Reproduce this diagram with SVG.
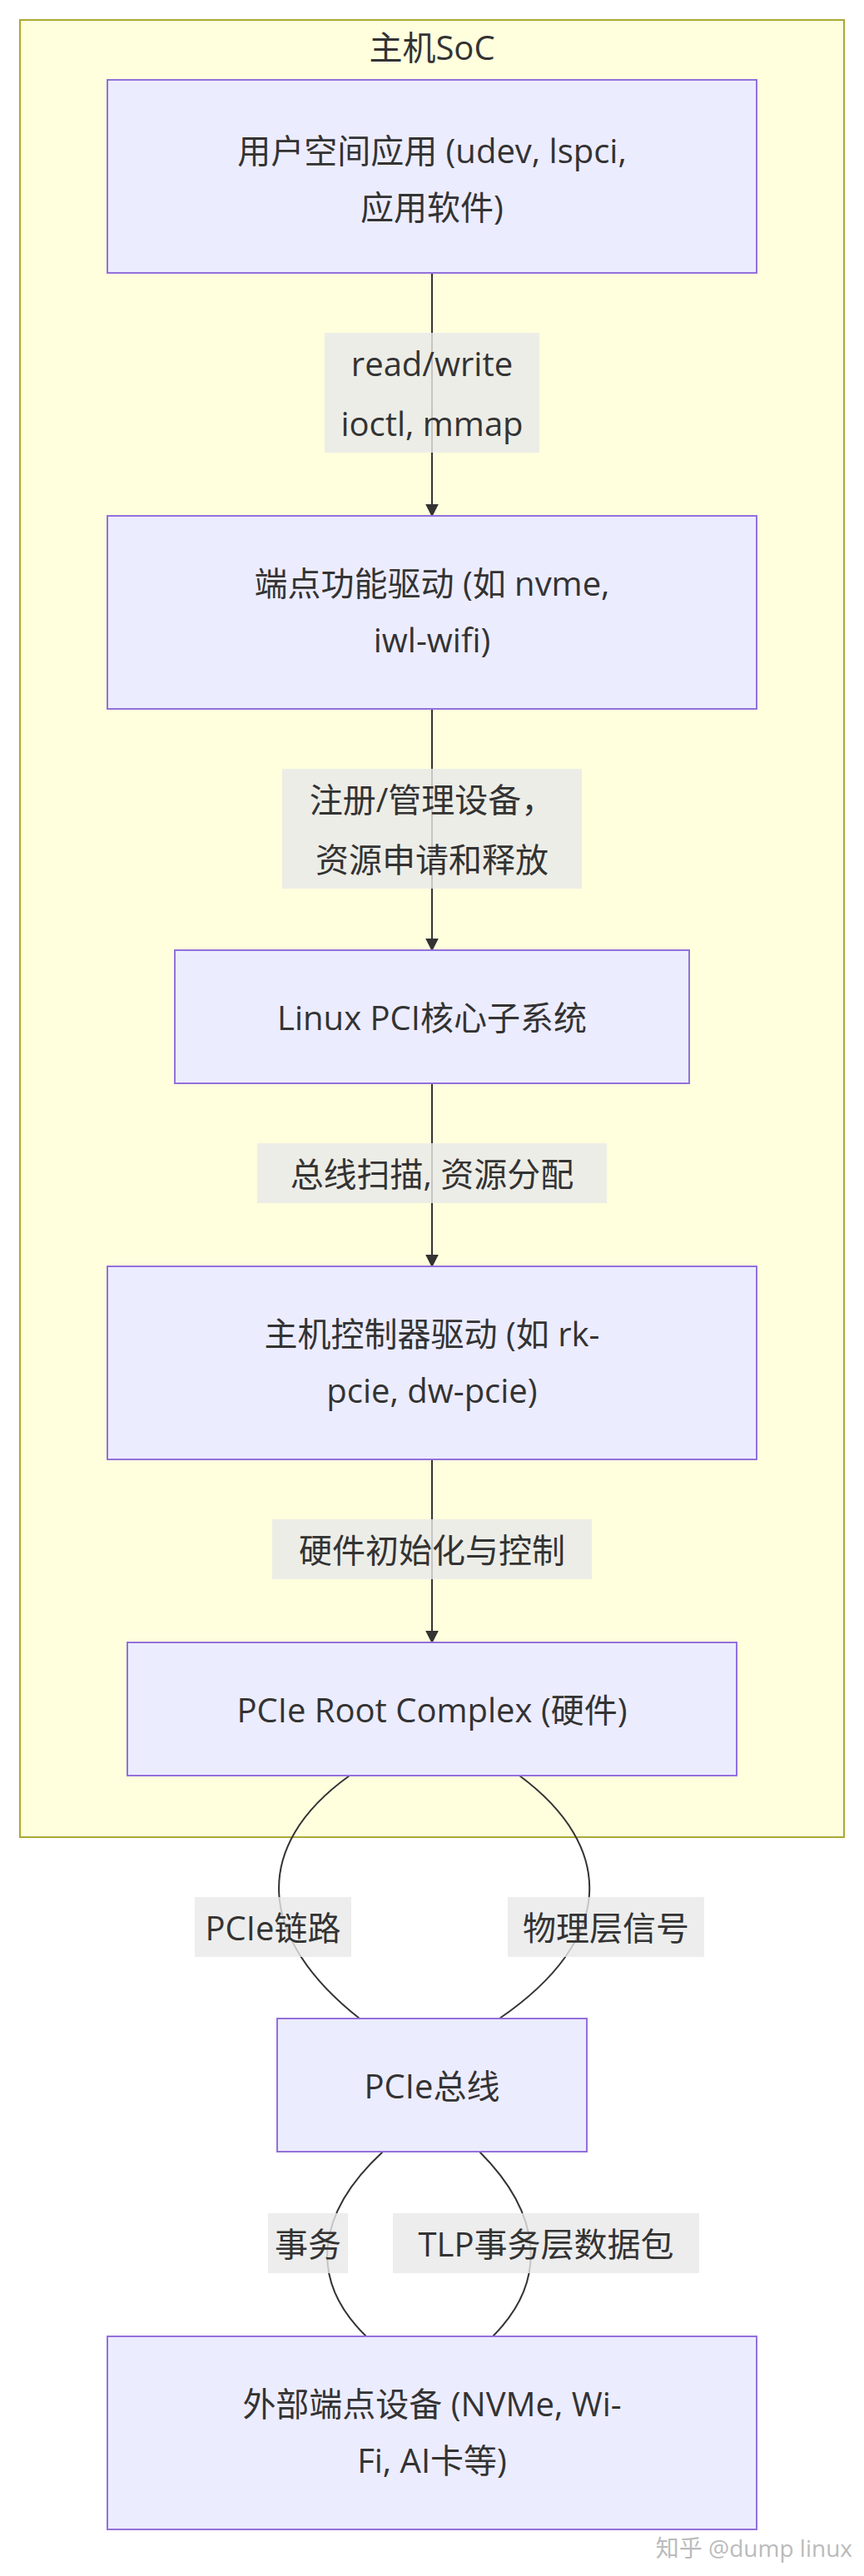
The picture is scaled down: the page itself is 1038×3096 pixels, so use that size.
<svg xmlns="http://www.w3.org/2000/svg" width="1038" height="3096" viewBox="0 0 1038 3096">
<style>
text{font-family:"Open Sans","Noto Sans CJK SC",sans-serif;font-size:40px;fill:#333;text-anchor:middle;dominant-baseline:central}
.n{fill:#ECECFF;stroke:#9370DB;stroke-width:2}
.e{fill:none;stroke:#333;stroke-width:2}
.lb{fill:#e8e8e8;opacity:0.8}
</style>
<defs><marker id="a" viewBox="0 0 10 10" refX="9" refY="5" markerWidth="8" markerHeight="8" orient="auto"><path d="M0,0L10,5L0,10z" fill="#333"/></marker></defs>
<g id="soc"><rect x="24" y="24" width="990" height="2184" fill="#ffffde" stroke="#aaaa33" stroke-width="2"/><text x="519" y="56">主机SoC</text></g>
<g id="edges">
<path class="e" d="M519,328V620" marker-end="url(#a)"/>
<path class="e" d="M519,852V1142" marker-end="url(#a)"/>
<path class="e" d="M519,1302V1522" marker-end="url(#a)"/>
<path class="e" d="M519,1754V1974" marker-end="url(#a)"/>
<path class="e" d="M420,2134C300,2220 310,2330 432,2426"/>
<path class="e" d="M624,2134C740,2220 740,2330 600,2426"/>
<path class="e" d="M460,2586C380,2660 370,2740 440,2808"/>
<path class="e" d="M576,2586C650,2660 660,2740 592,2808"/>
<rect class="lb" x="390" y="400" width="258" height="144"/><text x="519" y="436">read/write</text><text x="519" y="508">ioctl, mmap</text>
<rect class="lb" x="339" y="924" width="360" height="144"/><text x="519" y="960">注册/管理设备，</text><text x="519" y="1032">资源申请和释放</text>
<rect class="lb" x="309" y="1374" width="420" height="72"/><text x="519" y="1410">总线扫描, 资源分配</text>
<rect class="lb" x="327" y="1826" width="384" height="72"/><text x="519" y="1862">硬件初始化与控制</text>
<rect class="lb" x="234" y="2280" width="188" height="72"/><text x="328" y="2316">PCIe链路</text>
<rect class="lb" x="610" y="2280" width="236" height="72"/><text x="728" y="2316">物理层信号</text>
<rect class="lb" x="322" y="2660" width="96" height="72"/><text x="370" y="2696">事务</text>
<rect class="lb" x="472" y="2660" width="368" height="72"/><text x="656" y="2696">TLP事务层数据包</text>
</g>
<g id="n1"><rect class="n" x="129" y="96" width="780" height="232"/><text x="519" y="180">用户空间应用 (udev, lspci,</text><text x="519" y="248">应用软件)</text></g>
<g id="n2"><rect class="n" x="129" y="620" width="780" height="232"/><text x="519" y="700">端点功能驱动 (如 nvme,</text><text x="519" y="768">iwl-wifi)</text></g>
<g id="n3"><rect class="n" x="210" y="1142" width="618" height="160"/><text x="519" y="1222">Linux PCI核心子系统</text></g>
<g id="n4"><rect class="n" x="129" y="1522" width="780" height="232"/><text x="519" y="1602">主机控制器驱动 (如 rk-</text><text x="519" y="1670">pcie, dw-pcie)</text></g>
<g id="n5"><rect class="n" x="153" y="1974" width="732" height="160"/><text x="519" y="2054">PCIe Root Complex (硬件)</text></g>
<g id="n6"><rect class="n" x="333" y="2426" width="372" height="160"/><text x="519" y="2506">PCIe总线</text></g>
<g id="n7"><rect class="n" x="129" y="2808" width="780" height="232"/><text x="519" y="2888">外部端点设备 (NVMe, Wi-</text><text x="519" y="2956">Fi, AI卡等)</text></g>
<text x="1024" y="3062" style="font-size:28px;fill:#bbb;text-anchor:end">知乎 @dump linux</text>
</svg>
